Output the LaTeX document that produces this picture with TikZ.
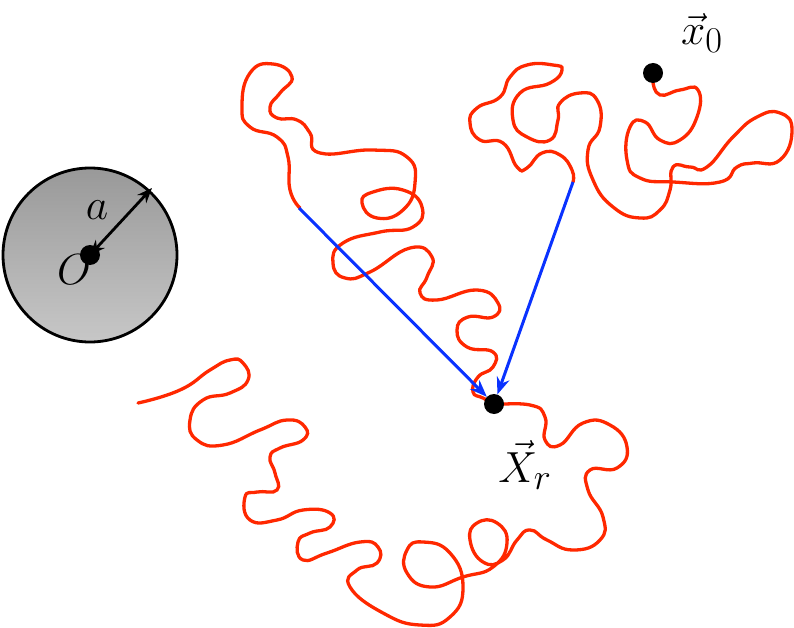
\documentclass[tikz,border=0pt]{standalone}
\usetikzlibrary{arrows.meta}
\begin{document}
\begin{tikzpicture}[x=1pt,y=-1pt,
  walk/.style={draw={rgb,255:red,255;green,40;blue,0},line width=3.3pt,smooth,tension=0.85,line cap=round},
  jump/.style={draw={rgb,255:red,10;green,50;blue,255},line width=3pt,-{Stealth[length=17pt,width=13pt]}},
  dotn/.style={circle,fill=black,inner sep=0pt,minimum size=20pt},
  lbl/.style={font=\Huge,scale=1.75}]
\useasboundingbox (0,0) rectangle (794,628);
% disk
\shade[top color=black!40,bottom color=black!22,draw=black,line width=2.8pt] (90,255) circle (87);
\node[dotn] (O) at (90,255) {};
\coordinate (rim) at (152,188);
\draw[line width=2.8pt,{Stealth[length=15pt,width=12pt]}-{Stealth[length=15pt,width=12pt]}] (O.center) -- (rim);
\node[lbl] (la) at (97,210) {$a$};
\node[lbl] (lO) at (74,270) {$O$};
% walk A
\draw[walk] plot coordinates {(653,82)(660,95)(680,90)(698,90)(697,117)(680,140)(660,140)(645,122)(630,127)(627,160)(640,178)(673,182)(720,182)(737,167)(753,163)(780,160)(792,130)(780,113)(757,117)(733,137)(707,167)(690,167)(673,167)(670,190)(660,210)(640,218)(613,207)(593,180)(588,150)(600,127)(597,100)(580,93)(560,103)(558,120)(550,140)(527,137)(513,120)(520,93)(550,83)(562,70)(553,65)(527,65)(510,77)(500,97)(477,108)(470,123)(480,140)(503,143)(517,167)(527,168)(542,153)(560,155)(572,170)(573,182)};
% walk B
\draw[walk] plot coordinates {(300,208)(290,190)(288,157)(277,137)(250,127)(242,107)(250,73)(273,64)(292,77)(280,93)(270,107)(277,118)(297,120)(310,133)(320,153)(373,150)(407,157)(415,183)(403,210)(377,218)(362,203)(373,192)(403,190)(422,207)(413,227)(380,232)(343,243)(333,263)(345,278)(370,272)(410,248)(432,257)(427,277)(420,293)(437,300)(477,290)(498,303)(493,317)(468,317)(457,330)(467,347)(493,352)(493,367)(478,377)(473,392)(483,398)(493,403)};
% walk C
\draw[walk] plot coordinates {(493,405)(530,405)(545,417)(545,440)(560,445)(583,423)(610,425)(627,447)(617,468)(590,470)(588,490)(603,517)(600,540)(573,550)(547,540)(530,530)(517,540)(503,560)(483,562)(470,540)(477,523)(497,523)(507,543)(493,567)(463,577)(430,587)(407,573)(407,550)(423,542)(450,553)(463,587)(450,617)(420,625)(383,613)(350,587)(357,570)(377,563)(378,547)(360,542)(327,553)(303,560)(298,542)(310,533)(330,527)(330,513)(303,510)(277,520)(250,520)(245,497)(257,492)(277,490)(275,473)(270,457)(280,448)(303,440)(305,427)(287,420)(260,430)(223,445)(197,440)(190,420)(203,400)(230,393)(248,380)(243,363)(230,360)(210,370)(180,390)(138,403)};
\node[dotn] (X) at (494,404) {};
\node[dotn] (x0) at (653,73) {};
\coordinate (s1) at (299,208);
\coordinate (s2) at (573,182);
\draw[jump] (s1) -- (X);
\draw[jump] (s2) -- (X);
\node[lbl] (lX) at (525,465) {$\vec X_r$};
\node[lbl] (lx0) at (702,33) {$\vec x_0$};
\end{tikzpicture}
\end{document}
